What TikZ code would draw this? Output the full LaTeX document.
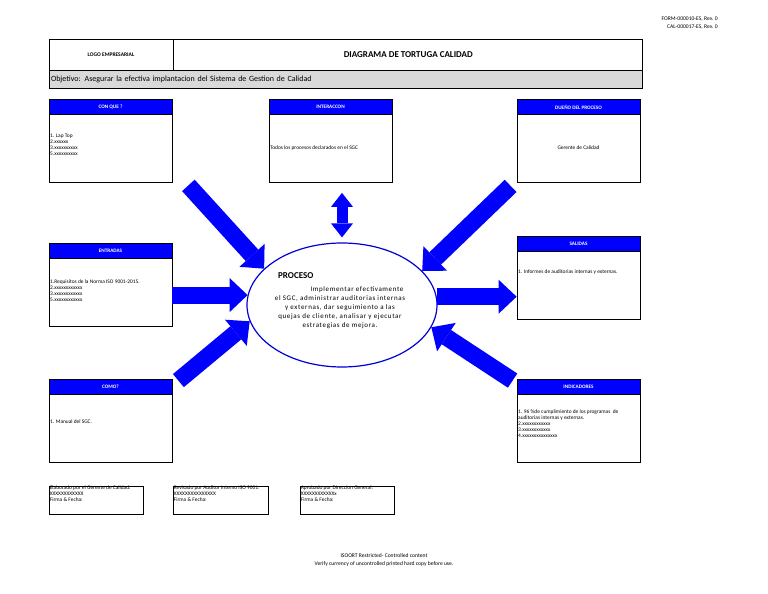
\documentclass[tikz,border=0pt]{standalone}
\usepackage{fontspec}
\setmainfont{Carlito}
\usetikzlibrary{shapes,arrows.meta,positioning,calc}

\begin{document}
\begin{tikzpicture}[x=1pt, y=1pt]
    % Define styles
    \tikzstyle{cell} = [rectangle, draw=black, line width=0.8pt, inner sep=0pt]
    \tikzstyle{box} = [rectangle, minimum width=123pt, minimum height=83pt, draw=black, line width=0.8pt, fill=white]
    \tikzstyle{boxhead} = [rectangle, minimum width=123pt, minimum height=15pt, draw=black, line width=0.8pt, fill=blue, text=white, font=\bfseries\fontsize{5.2}{6}\selectfont, anchor=north, inner sep=0pt]
    \tikzstyle{boxtext} = [align=left, font=\fontsize{5.4}{6}\selectfont, inner sep=0pt, anchor=west]
    \tikzstyle{signbox} = [rectangle, minimum width=94pt, minimum height=28pt, draw=black, line width=0.8pt]
    \tikzstyle{smalltext} = [font=\fontsize{5.6}{7.5}\selectfont, inner sep=0pt]
    \tikzstyle{core} = [ellipse, minimum width=190pt, minimum height=124pt, inner sep=0pt, draw=blue!85!black, line width=1.2pt, fill=white]
    \tikzstyle{bigarrow} = [draw=blue, line width=17pt, -{Triangle[length=18pt, width=34pt, line width=0pt]}]
    \tikzstyle{dblarrow} = [draw=blue, line width=11pt, {Triangle[length=14pt, width=22pt, line width=0pt]}-{Triangle[length=14pt, width=22pt, line width=0pt]}]

    \useasboundingbox (0,0) rectangle (768,594);

    % Header
    \node [smalltext, align=right, anchor=north east] (formcode) at (718,577) {FORM-000010-ES, Rev. 0\\CAL-000017-ES, Rev. 0};
    \node [cell, minimum width=124pt, minimum height=31pt, font=\bfseries\fontsize{5.5}{6}\selectfont] (logo) at (111,539.5) {LOGO EMPRESARIAL};
    \node [cell, minimum width=469pt, minimum height=31pt, anchor=west, font=\bfseries\fontsize{9}{11}\selectfont] (titulo) at (logo.east) {DIAGRAMA DE TORTUGA CALIDAD};
    \node [cell, fill=gray!30, minimum height=18pt, text width=589pt, inner xsep=2pt, anchor=north west, align=left, font=\fontsize{8}{10}\selectfont] (objetivo) at (logo.south west) {Objetivo: Asegurar la efectiva implantacion del Sistema de Gestion de Calidad};

    % Boxes
    \node [box] (conque) at (110.5,453) {};
    \node [boxhead] (conquehead) at (conque.north) {CON QUE ?};
    \node [boxtext] (conquetext) at (50,449) {1. Lap Top\\2.xxxxxx\\3.xxxxxxxxxx\\5.xxxxxxxxxx};

    \node [box] (interaccion) at (330.5,453) {};
    \node [boxhead] (interaccionhead) at (interaccion.north) {INTERACCON};
    \node [boxtext] (interacciontext) at (270,446) {Todos los procesos declarados en el SGC};

    \node [box] (dueno) at (578.5,453) {};
    \node [boxhead] (duenohead) at (dueno.north) {DUEÑO DEL PROCESO};
    \node [boxtext, anchor=center] (duenotext) at (578.5,446) {Gerente de Calidad};

    \node [box] (entradas) at (110.5,309.5) {};
    \node [boxhead] (entradashead) at (entradas.north) {ENTRADAS};
    \node [boxtext] (entradastext) at (50,303) {1.Requisitos de la Norma ISO 9001-2015.\\2.xxxxxxxxxxxx\\3.xxxxxxxxxxxx\\5.xxxxxxxxxxxx};

    \node [box] (salidas) at (578.5,316.5) {};
    \node [boxhead] (salidashead) at (salidas.north) {SALIDAS};
    \node [boxtext] (salidastext) at (518,322) {1. Informes de auditorias internas y externas.};

    \node [box] (como) at (110.5,173.5) {};
    \node [boxhead] (comohead) at (como.north) {COMO?};
    \node [boxtext] (comotext) at (50,172) {1. Manual del SGC.};

    \node [box] (indicadores) at (578.5,173.5) {};
    \node [boxhead] (indicadoreshead) at (indicadores.north) {INDICADORES};
    \node [boxtext] (indicadorestext) at (518,170.4) {1. 96 \%de cumplimiento de los programas\ \ de\\auditorias internas y externas.\\2.xxxxxxxxxxxx\\3.xxxxxxxxxxxx\\4.xxxxxxxxxxxxxxx};

    % Process
    \node [core] (proceso) at (342,289) {};
    \node [anchor=west, inner sep=0pt, font=\bfseries\fontsize{9}{11}\selectfont] (procesotitle) at (278,318) {PROCESO};
    \node [align=center, inner sep=0pt, font=\fontsize{7}{9}\selectfont\addfontfeatures{LetterSpace=9}] (procesotext) at (340,286) {\hspace*{34pt}Implementar efectivamente\\el SGC, administrar auditorias internas\\y externas, dar seguimiento a las\\quejas de cliente, analisar y ejecutar\\estrategias de mejora.};

    % Arrows
    \draw [bigarrow] ([shift={(16pt,-2.5pt)}]conque.south east) -- (proceso.155);
    \draw [bigarrow] ([shift={(-6pt,-3pt)}]dueno.south west) -- (proceso.23);
    \draw [bigarrow] (entradas.east |- proceso.174) -- (proceso.174);
    \draw [bigarrow] (proceso.5) -- (salidas.west |- proceso.5);
    \draw [bigarrow] ([shift={(6pt,-2pt)}]como.north east) -- (proceso.190);
    \draw [bigarrow] ([shift={(-4pt,-2pt)}]indicadores.north west) -- (proceso.346);
    \draw [dblarrow] ([yshift=-10pt]interaccion.south -| proceso.north) -- ([yshift=5pt]proceso.north);

    % Signatures
    \node [signbox] (elaborado) at (96,94) {};
    \node [boxtext, anchor=north west] (elaboradotext) at ([xshift=1pt]elaborado.north west) {Elaborado por el Gerente de Calidad:\\XXXXXXXXXXXX\\Firma \& Fecha:};
    \node [signbox, minimum width=95pt] (revisado) at (220.5,94) {};
    \node [boxtext, anchor=north west] (revisadotext) at ([xshift=1pt]revisado.north west) {Revisado por Auditor Interno ISO 9001:\\XXXXXXXXXXXXXXX\\Firma \& Fecha:};
    \node [signbox] (aprobado) at (347,94) {};
    \node [boxtext, anchor=north west] (aprobadotext) at ([xshift=1pt]aprobado.north west) {Aprobado por Direccion General:\\XXXXXXXXXXXXx\\Firma \& Fecha:};

    % Footer
    \node [smalltext, align=center] (footer) at (384,34) {ISOORT Restricted- Controlled content\\Verify currency of uncontrolled printed hard copy before use.};
\end{tikzpicture}
\end{document}
